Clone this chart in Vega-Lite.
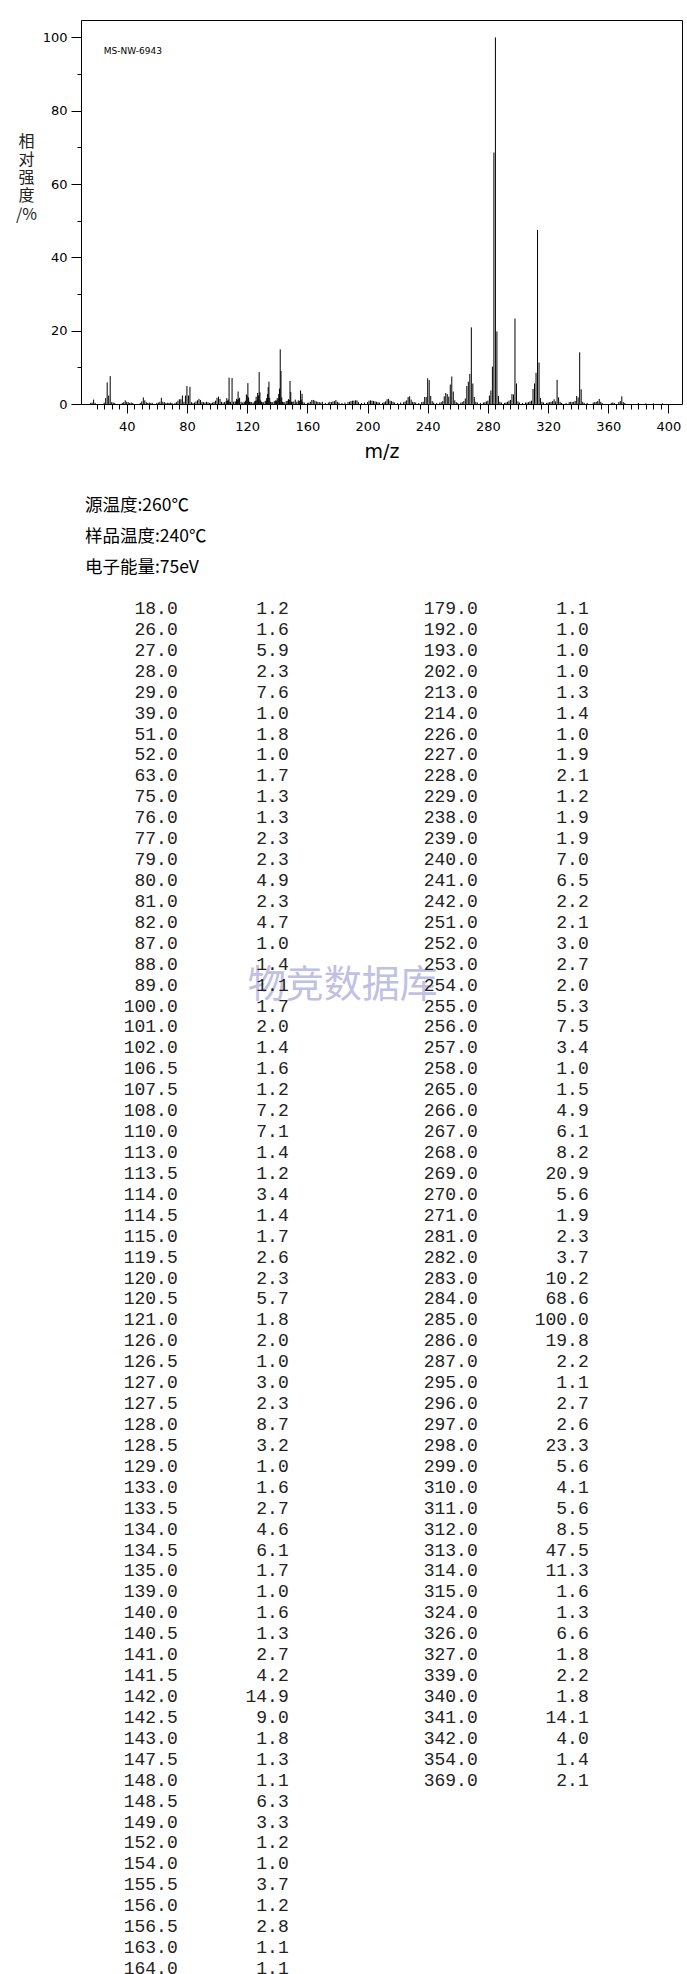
{
  "$schema": "https://vega.github.io/schema/vega-lite/v6.json",
  "padding": {"left": 14, "top": 19, "right": 2, "bottom": 0},
  "background": "white",
  "config": {
    "view": {"stroke": "black", "strokeWidth": 1},
    "axis": {"grid": false, "domain": false, "tickColor": "black", "labelColor": "black", "titleColor": "black", "labelFont": "DejaVu Sans", "titleFont": "DejaVu Sans", "titleFontWeight": "normal"}
  },
  "datasets": {
    "ms": [
      {"col": 0, "row": 0, "mz": 18.0, "i": 1.2},
      {"col": 0, "row": 1, "mz": 26.0, "i": 1.6},
      {"col": 0, "row": 2, "mz": 27.0, "i": 5.9},
      {"col": 0, "row": 3, "mz": 28.0, "i": 2.3},
      {"col": 0, "row": 4, "mz": 29.0, "i": 7.6},
      {"col": 0, "row": 5, "mz": 39.0, "i": 1.0},
      {"col": 0, "row": 6, "mz": 51.0, "i": 1.8},
      {"col": 0, "row": 7, "mz": 52.0, "i": 1.0},
      {"col": 0, "row": 8, "mz": 63.0, "i": 1.7},
      {"col": 0, "row": 9, "mz": 75.0, "i": 1.3},
      {"col": 0, "row": 10, "mz": 76.0, "i": 1.3},
      {"col": 0, "row": 11, "mz": 77.0, "i": 2.3},
      {"col": 0, "row": 12, "mz": 79.0, "i": 2.3},
      {"col": 0, "row": 13, "mz": 80.0, "i": 4.9},
      {"col": 0, "row": 14, "mz": 81.0, "i": 2.3},
      {"col": 0, "row": 15, "mz": 82.0, "i": 4.7},
      {"col": 0, "row": 16, "mz": 87.0, "i": 1.0},
      {"col": 0, "row": 17, "mz": 88.0, "i": 1.4},
      {"col": 0, "row": 18, "mz": 89.0, "i": 1.1},
      {"col": 0, "row": 19, "mz": 100.0, "i": 1.7},
      {"col": 0, "row": 20, "mz": 101.0, "i": 2.0},
      {"col": 0, "row": 21, "mz": 102.0, "i": 1.4},
      {"col": 0, "row": 22, "mz": 106.5, "i": 1.6},
      {"col": 0, "row": 23, "mz": 107.5, "i": 1.2},
      {"col": 0, "row": 24, "mz": 108.0, "i": 7.2},
      {"col": 0, "row": 25, "mz": 110.0, "i": 7.1},
      {"col": 0, "row": 26, "mz": 113.0, "i": 1.4},
      {"col": 0, "row": 27, "mz": 113.5, "i": 1.2},
      {"col": 0, "row": 28, "mz": 114.0, "i": 3.4},
      {"col": 0, "row": 29, "mz": 114.5, "i": 1.4},
      {"col": 0, "row": 30, "mz": 115.0, "i": 1.7},
      {"col": 0, "row": 31, "mz": 119.5, "i": 2.6},
      {"col": 0, "row": 32, "mz": 120.0, "i": 2.3},
      {"col": 0, "row": 33, "mz": 120.5, "i": 5.7},
      {"col": 0, "row": 34, "mz": 121.0, "i": 1.8},
      {"col": 0, "row": 35, "mz": 126.0, "i": 2.0},
      {"col": 0, "row": 36, "mz": 126.5, "i": 1.0},
      {"col": 0, "row": 37, "mz": 127.0, "i": 3.0},
      {"col": 0, "row": 38, "mz": 127.5, "i": 2.3},
      {"col": 0, "row": 39, "mz": 128.0, "i": 8.7},
      {"col": 0, "row": 40, "mz": 128.5, "i": 3.2},
      {"col": 0, "row": 41, "mz": 129.0, "i": 1.0},
      {"col": 0, "row": 42, "mz": 133.0, "i": 1.6},
      {"col": 0, "row": 43, "mz": 133.5, "i": 2.7},
      {"col": 0, "row": 44, "mz": 134.0, "i": 4.6},
      {"col": 0, "row": 45, "mz": 134.5, "i": 6.1},
      {"col": 0, "row": 46, "mz": 135.0, "i": 1.7},
      {"col": 0, "row": 47, "mz": 139.0, "i": 1.0},
      {"col": 0, "row": 48, "mz": 140.0, "i": 1.6},
      {"col": 0, "row": 49, "mz": 140.5, "i": 1.3},
      {"col": 0, "row": 50, "mz": 141.0, "i": 2.7},
      {"col": 0, "row": 51, "mz": 141.5, "i": 4.2},
      {"col": 0, "row": 52, "mz": 142.0, "i": 14.9},
      {"col": 0, "row": 53, "mz": 142.5, "i": 9.0},
      {"col": 0, "row": 54, "mz": 143.0, "i": 1.8},
      {"col": 0, "row": 55, "mz": 147.5, "i": 1.3},
      {"col": 0, "row": 56, "mz": 148.0, "i": 1.1},
      {"col": 0, "row": 57, "mz": 148.5, "i": 6.3},
      {"col": 0, "row": 58, "mz": 149.0, "i": 3.3},
      {"col": 0, "row": 59, "mz": 152.0, "i": 1.2},
      {"col": 0, "row": 60, "mz": 154.0, "i": 1.0},
      {"col": 0, "row": 61, "mz": 155.5, "i": 3.7},
      {"col": 0, "row": 62, "mz": 156.0, "i": 1.2},
      {"col": 0, "row": 63, "mz": 156.5, "i": 2.8},
      {"col": 0, "row": 64, "mz": 163.0, "i": 1.1},
      {"col": 0, "row": 65, "mz": 164.0, "i": 1.1},
      {"col": 1, "row": 0, "mz": 179.0, "i": 1.1},
      {"col": 1, "row": 1, "mz": 192.0, "i": 1.0},
      {"col": 1, "row": 2, "mz": 193.0, "i": 1.0},
      {"col": 1, "row": 3, "mz": 202.0, "i": 1.0},
      {"col": 1, "row": 4, "mz": 213.0, "i": 1.3},
      {"col": 1, "row": 5, "mz": 214.0, "i": 1.4},
      {"col": 1, "row": 6, "mz": 226.0, "i": 1.0},
      {"col": 1, "row": 7, "mz": 227.0, "i": 1.9},
      {"col": 1, "row": 8, "mz": 228.0, "i": 2.1},
      {"col": 1, "row": 9, "mz": 229.0, "i": 1.2},
      {"col": 1, "row": 10, "mz": 238.0, "i": 1.9},
      {"col": 1, "row": 11, "mz": 239.0, "i": 1.9},
      {"col": 1, "row": 12, "mz": 240.0, "i": 7.0},
      {"col": 1, "row": 13, "mz": 241.0, "i": 6.5},
      {"col": 1, "row": 14, "mz": 242.0, "i": 2.2},
      {"col": 1, "row": 15, "mz": 251.0, "i": 2.1},
      {"col": 1, "row": 16, "mz": 252.0, "i": 3.0},
      {"col": 1, "row": 17, "mz": 253.0, "i": 2.7},
      {"col": 1, "row": 18, "mz": 254.0, "i": 2.0},
      {"col": 1, "row": 19, "mz": 255.0, "i": 5.3},
      {"col": 1, "row": 20, "mz": 256.0, "i": 7.5},
      {"col": 1, "row": 21, "mz": 257.0, "i": 3.4},
      {"col": 1, "row": 22, "mz": 258.0, "i": 1.0},
      {"col": 1, "row": 23, "mz": 265.0, "i": 1.5},
      {"col": 1, "row": 24, "mz": 266.0, "i": 4.9},
      {"col": 1, "row": 25, "mz": 267.0, "i": 6.1},
      {"col": 1, "row": 26, "mz": 268.0, "i": 8.2},
      {"col": 1, "row": 27, "mz": 269.0, "i": 20.9},
      {"col": 1, "row": 28, "mz": 270.0, "i": 5.6},
      {"col": 1, "row": 29, "mz": 271.0, "i": 1.9},
      {"col": 1, "row": 30, "mz": 281.0, "i": 2.3},
      {"col": 1, "row": 31, "mz": 282.0, "i": 3.7},
      {"col": 1, "row": 32, "mz": 283.0, "i": 10.2},
      {"col": 1, "row": 33, "mz": 284.0, "i": 68.6},
      {"col": 1, "row": 34, "mz": 285.0, "i": 100.0},
      {"col": 1, "row": 35, "mz": 286.0, "i": 19.8},
      {"col": 1, "row": 36, "mz": 287.0, "i": 2.2},
      {"col": 1, "row": 37, "mz": 295.0, "i": 1.1},
      {"col": 1, "row": 38, "mz": 296.0, "i": 2.7},
      {"col": 1, "row": 39, "mz": 297.0, "i": 2.6},
      {"col": 1, "row": 40, "mz": 298.0, "i": 23.3},
      {"col": 1, "row": 41, "mz": 299.0, "i": 5.6},
      {"col": 1, "row": 42, "mz": 310.0, "i": 4.1},
      {"col": 1, "row": 43, "mz": 311.0, "i": 5.6},
      {"col": 1, "row": 44, "mz": 312.0, "i": 8.5},
      {"col": 1, "row": 45, "mz": 313.0, "i": 47.5},
      {"col": 1, "row": 46, "mz": 314.0, "i": 11.3},
      {"col": 1, "row": 47, "mz": 315.0, "i": 1.6},
      {"col": 1, "row": 48, "mz": 324.0, "i": 1.3},
      {"col": 1, "row": 49, "mz": 326.0, "i": 6.6},
      {"col": 1, "row": 50, "mz": 327.0, "i": 1.8},
      {"col": 1, "row": 51, "mz": 339.0, "i": 2.2},
      {"col": 1, "row": 52, "mz": 340.0, "i": 1.8},
      {"col": 1, "row": 53, "mz": 341.0, "i": 14.1},
      {"col": 1, "row": 54, "mz": 342.0, "i": 4.0},
      {"col": 1, "row": 55, "mz": 354.0, "i": 1.4},
      {"col": 1, "row": 56, "mz": 369.0, "i": 2.1}
    ],
    "minor": [
      {"mz": 16, "i": 0.3}, {"mz": 17, "i": 0.4}, {"mz": 19, "i": 0.3}, {"mz": 25, "i": 0.4}, {"mz": 30, "i": 0.5}, {"mz": 31, "i": 0.4}, {"mz": 32, "i": 0.3},
      {"mz": 37, "i": 0.3}, {"mz": 38, "i": 0.5}, {"mz": 40, "i": 0.6}, {"mz": 41, "i": 0.5}, {"mz": 42, "i": 0.3}, {"mz": 43, "i": 0.4}, {"mz": 44, "i": 0.3},
      {"mz": 49, "i": 0.3}, {"mz": 50, "i": 0.7}, {"mz": 53, "i": 0.5}, {"mz": 54, "i": 0.3}, {"mz": 55, "i": 0.4}, {"mz": 56, "i": 0.3}, {"mz": 57, "i": 0.3},
      {"mz": 60, "i": 0.3}, {"mz": 61, "i": 0.4}, {"mz": 62, "i": 0.6}, {"mz": 64, "i": 0.6}, {"mz": 65, "i": 0.5}, {"mz": 66, "i": 0.3}, {"mz": 67, "i": 0.3},
      {"mz": 68, "i": 0.3}, {"mz": 69, "i": 0.4}, {"mz": 70, "i": 0.3}, {"mz": 72, "i": 0.3}, {"mz": 73, "i": 0.5}, {"mz": 74, "i": 0.9}, {"mz": 78, "i": 0.6},
      {"mz": 83, "i": 0.5}, {"mz": 84, "i": 0.3}, {"mz": 85, "i": 0.4}, {"mz": 86, "i": 0.7}, {"mz": 90, "i": 0.6}, {"mz": 91, "i": 0.5}, {"mz": 92, "i": 0.4},
      {"mz": 93, "i": 0.6}, {"mz": 94, "i": 0.5}, {"mz": 95, "i": 0.3}, {"mz": 96, "i": 0.3}, {"mz": 97, "i": 0.4}, {"mz": 98, "i": 0.6}, {"mz": 99, "i": 0.9},
      {"mz": 103, "i": 0.6}, {"mz": 104, "i": 0.4}, {"mz": 105, "i": 0.5}, {"mz": 106, "i": 0.8}, {"mz": 107, "i": 0.9}, {"mz": 108.5, "i": 0.5}, {"mz": 109, "i": 0.6},
      {"mz": 111, "i": 0.6}, {"mz": 112, "i": 0.7}, {"mz": 112.5, "i": 0.6}, {"mz": 116, "i": 0.6}, {"mz": 117, "i": 0.4}, {"mz": 118, "i": 0.6}, {"mz": 118.5, "i": 0.5},
      {"mz": 119, "i": 0.9}, {"mz": 121.5, "i": 0.6}, {"mz": 122, "i": 0.6}, {"mz": 123, "i": 0.5}, {"mz": 124, "i": 0.4}, {"mz": 125, "i": 0.7}, {"mz": 125.5, "i": 0.9},
      {"mz": 129.5, "i": 0.6}, {"mz": 130, "i": 0.5}, {"mz": 131, "i": 0.5}, {"mz": 132, "i": 0.8}, {"mz": 132.5, "i": 0.9}, {"mz": 135.5, "i": 0.6}, {"mz": 136, "i": 0.5},
      {"mz": 137, "i": 0.5}, {"mz": 138, "i": 0.7}, {"mz": 138.5, "i": 0.8}, {"mz": 139.5, "i": 0.9}, {"mz": 143.5, "i": 0.6}, {"mz": 144, "i": 0.5}, {"mz": 145, "i": 0.5},
      {"mz": 146, "i": 0.8}, {"mz": 147, "i": 0.9}, {"mz": 149.5, "i": 0.6}, {"mz": 150, "i": 0.6}, {"mz": 151, "i": 0.7}, {"mz": 153, "i": 0.6}, {"mz": 154.5, "i": 0.7},
      {"mz": 155, "i": 0.9}, {"mz": 157, "i": 0.6}, {"mz": 158, "i": 0.4}, {"mz": 160, "i": 0.3}, {"mz": 161, "i": 0.4}, {"mz": 162, "i": 0.6}, {"mz": 165, "i": 0.9},
      {"mz": 166, "i": 0.7}, {"mz": 167, "i": 0.6}, {"mz": 168, "i": 0.5}, {"mz": 169, "i": 0.4}, {"mz": 170, "i": 0.6}, {"mz": 172, "i": 0.3}, {"mz": 174, "i": 0.4},
      {"mz": 175, "i": 0.6}, {"mz": 176, "i": 0.5}, {"mz": 177, "i": 0.7}, {"mz": 178, "i": 0.8}, {"mz": 180, "i": 0.6}, {"mz": 181, "i": 0.4}, {"mz": 183, "i": 0.3},
      {"mz": 185, "i": 0.4}, {"mz": 187, "i": 0.5}, {"mz": 188, "i": 0.6}, {"mz": 189, "i": 0.8}, {"mz": 190, "i": 0.9}, {"mz": 191, "i": 0.9}, {"mz": 194, "i": 0.5},
      {"mz": 196, "i": 0.3}, {"mz": 198, "i": 0.4}, {"mz": 200, "i": 0.5}, {"mz": 201, "i": 0.9}, {"mz": 203, "i": 0.9}, {"mz": 204, "i": 0.8}, {"mz": 205, "i": 0.7},
      {"mz": 206, "i": 0.6}, {"mz": 207, "i": 0.5}, {"mz": 208, "i": 0.4}, {"mz": 210, "i": 0.3}, {"mz": 211, "i": 0.5}, {"mz": 212, "i": 0.7}, {"mz": 215, "i": 0.9},
      {"mz": 216, "i": 0.8}, {"mz": 217, "i": 0.6}, {"mz": 218, "i": 0.4}, {"mz": 220, "i": 0.3}, {"mz": 222, "i": 0.4}, {"mz": 224, "i": 0.5}, {"mz": 225, "i": 0.7},
      {"mz": 230, "i": 0.6}, {"mz": 231, "i": 0.5}, {"mz": 232, "i": 0.4}, {"mz": 234, "i": 0.3}, {"mz": 236, "i": 0.5}, {"mz": 237, "i": 0.6}, {"mz": 243, "i": 0.8},
      {"mz": 244, "i": 0.4}, {"mz": 246, "i": 0.3}, {"mz": 248, "i": 0.4}, {"mz": 249, "i": 0.5}, {"mz": 250, "i": 0.8}, {"mz": 259, "i": 0.5}, {"mz": 260, "i": 0.3},
      {"mz": 262, "i": 0.4}, {"mz": 263, "i": 0.5}, {"mz": 264, "i": 0.8}, {"mz": 272, "i": 0.6}, {"mz": 273, "i": 0.4}, {"mz": 275, "i": 0.3}, {"mz": 277, "i": 0.4},
      {"mz": 278, "i": 0.5}, {"mz": 279, "i": 0.7}, {"mz": 280, "i": 0.9}, {"mz": 288, "i": 0.6}, {"mz": 289, "i": 0.4}, {"mz": 291, "i": 0.3}, {"mz": 292, "i": 0.4},
      {"mz": 293, "i": 0.6}, {"mz": 294, "i": 0.9}, {"mz": 300, "i": 0.7}, {"mz": 301, "i": 0.4}, {"mz": 303, "i": 0.3}, {"mz": 305, "i": 0.4}, {"mz": 306, "i": 0.4},
      {"mz": 307, "i": 0.5}, {"mz": 308, "i": 0.7}, {"mz": 309, "i": 0.9}, {"mz": 316, "i": 0.6}, {"mz": 317, "i": 0.4}, {"mz": 319, "i": 0.3}, {"mz": 320, "i": 0.4},
      {"mz": 321, "i": 0.5}, {"mz": 322, "i": 0.6}, {"mz": 323, "i": 0.8}, {"mz": 325, "i": 0.7}, {"mz": 328, "i": 0.6}, {"mz": 329, "i": 0.3}, {"mz": 332, "i": 0.3},
      {"mz": 334, "i": 0.5}, {"mz": 335, "i": 0.6}, {"mz": 336, "i": 0.5}, {"mz": 337, "i": 0.6}, {"mz": 338, "i": 0.8}, {"mz": 343, "i": 0.6}, {"mz": 344, "i": 0.3},
      {"mz": 346, "i": 0.3}, {"mz": 350, "i": 0.4}, {"mz": 351, "i": 0.5}, {"mz": 352, "i": 0.6}, {"mz": 353, "i": 0.8}, {"mz": 355, "i": 0.6}, {"mz": 356, "i": 0.3},
      {"mz": 362, "i": 0.3}, {"mz": 363, "i": 0.4}, {"mz": 364, "i": 0.3}, {"mz": 367, "i": 0.5}, {"mz": 368, "i": 0.8}, {"mz": 370, "i": 0.5}, {"mz": 371, "i": 0.3},
      {"mz": 380, "i": 0.3}, {"mz": 385, "i": 0.2}, {"mz": 390, "i": 0.2}, {"mz": 396, "i": 0.2}
    ]
  },
  "bounds": "flush",
  "spacing": 205,
  "vconcat": [
    {
      "width": 601,
      "height": 384,
      "layer": [
        {
          "data": {"name": "minor"},
          "mark": {"type": "rule", "color": "black", "strokeWidth": 1},
          "encoding": {
            "x": {"field": "mz", "type": "quantitative", "scale": {"domain": [9.6, 409], "nice": false, "zero": false},
                  "axis": {"orient": "bottom", "values": [20,25,30,35,40,45,50,55,60,65,70,75,80,85,90,95,100,105,110,115,120,125,130,135,140,145,150,155,160,165,170,175,180,185,190,195,200,205,210,215,220,225,230,235,240,245,250,255,260,265,270,275,280,285,290,295,300,305,310,315,320,325,330,335,340,345,350,355,360,365,370,375,380,385,390,395,400], "tickSize": 5, "labels": false, "title": null}},
            "y": {"field": "i", "type": "quantitative", "scale": {"domain": [0, 104.75], "nice": false, "zero": false},
                  "axis": {"orient": "left", "values": [10, 30, 50, 70, 90], "tickSize": 4, "labels": false, "title": null}},
            "y2": {"datum": 0}
          }
        },
        {
          "data": {"name": "ms"},
          "mark": {"type": "rule", "color": "black", "strokeWidth": 1},
          "encoding": {
            "x": {"field": "mz", "type": "quantitative",
                  "axis": {"orient": "bottom", "values": [40, 80, 120, 160, 200, 240, 280, 320, 360, 400], "tickSize": 9, "labelPadding": 17, "labelBaseline": "alphabetic", "labelFontSize": 13,
                           "title": "m/z", "titleFontSize": 19, "titleY": 53.4, "titleBaseline": "alphabetic"}},
            "y": {"field": "i", "type": "quantitative",
                  "axis": {"orient": "left", "values": [0, 20, 40, 60, 80, 100], "tickSize": 10, "labelPadding": 4, "labelFontSize": 13,
                           "title": ["相", "对", "强", "度", "/%"], "titleAngle": 0, "titleX": -55, "titleY": 121, "titleAlign": "center", "titleBaseline": "middle",
                           "titleLineHeight": 18.25, "titleFontSize": 16, "titleFont": "Noto Sans CJK SC", "titleColor": "#222222"}},
            "y2": {"datum": 0}
          }
        },
        {
          "data": {"values": [{"t": "MS-NW-6943"}]},
          "mark": {"type": "text", "align": "left", "baseline": "middle", "fontSize": 9, "font": "DejaVu Sans", "color": "black"},
          "encoding": {
            "x": {"datum": 24.7, "type": "quantitative", "axis": null},
            "y": {"datum": 96.2, "type": "quantitative", "axis": null},
            "text": {"field": "t"}
          }
        }
      ],
      "resolve": {"axis": {"x": "independent", "y": "independent"}}
    },
    {
      "width": 601,
      "height": 1360,
      "view": {"stroke": null},
      "title": {"text": ["源温度:260℃", "样品温度:240℃", "电子能量:75eV"], "anchor": "start", "frame": "group", "orient": "top",
                "fontSize": 17.5, "font": "Noto Sans CJK SC", "fontWeight": "normal", "lineHeight": 31, "baseline": "bottom", "offset": 6, "dx": 4, "color": "black"},
      "layer": [
        {
          "data": {"values": [{"w": "物竞数据库"}]},
          "mark": {"type": "text", "font": "Noto Sans CJK SC", "fontSize": 38, "color": "#c0c0e4", "align": "center", "baseline": "middle"},
          "encoding": {
            "x": {"datum": 0.55, "type": "quantitative", "axis": null},
            "y": {"datum": 18, "type": "quantitative", "axis": null},
            "text": {"field": "w"}
          }
        },
        {
          "data": {"name": "ms"},
          "mark": {"type": "text", "font": "Liberation Mono", "fontSize": 18, "color": "#222222", "align": "right", "baseline": "middle"},
          "encoding": {
            "x": {"field": "col", "type": "quantitative", "scale": {"domain": [-0.3223, 1.681], "nice": false, "zero": false}, "axis": null},
            "y": {"field": "row", "type": "quantitative", "scale": {"domain": [0, 65], "reverse": true, "nice": false, "zero": false}, "axis": null},
            "text": {"field": "mz", "type": "quantitative", "format": ".1f"}
          }
        },
        {
          "data": {"name": "ms"},
          "mark": {"type": "text", "font": "Liberation Mono", "fontSize": 18, "color": "#222222", "align": "right", "baseline": "middle", "dx": 111},
          "encoding": {
            "x": {"field": "col", "type": "quantitative", "axis": null},
            "y": {"field": "row", "type": "quantitative", "axis": null},
            "text": {"field": "i", "type": "quantitative", "format": ".1f"}
          }
        }
      ]
    }
  ]
}
